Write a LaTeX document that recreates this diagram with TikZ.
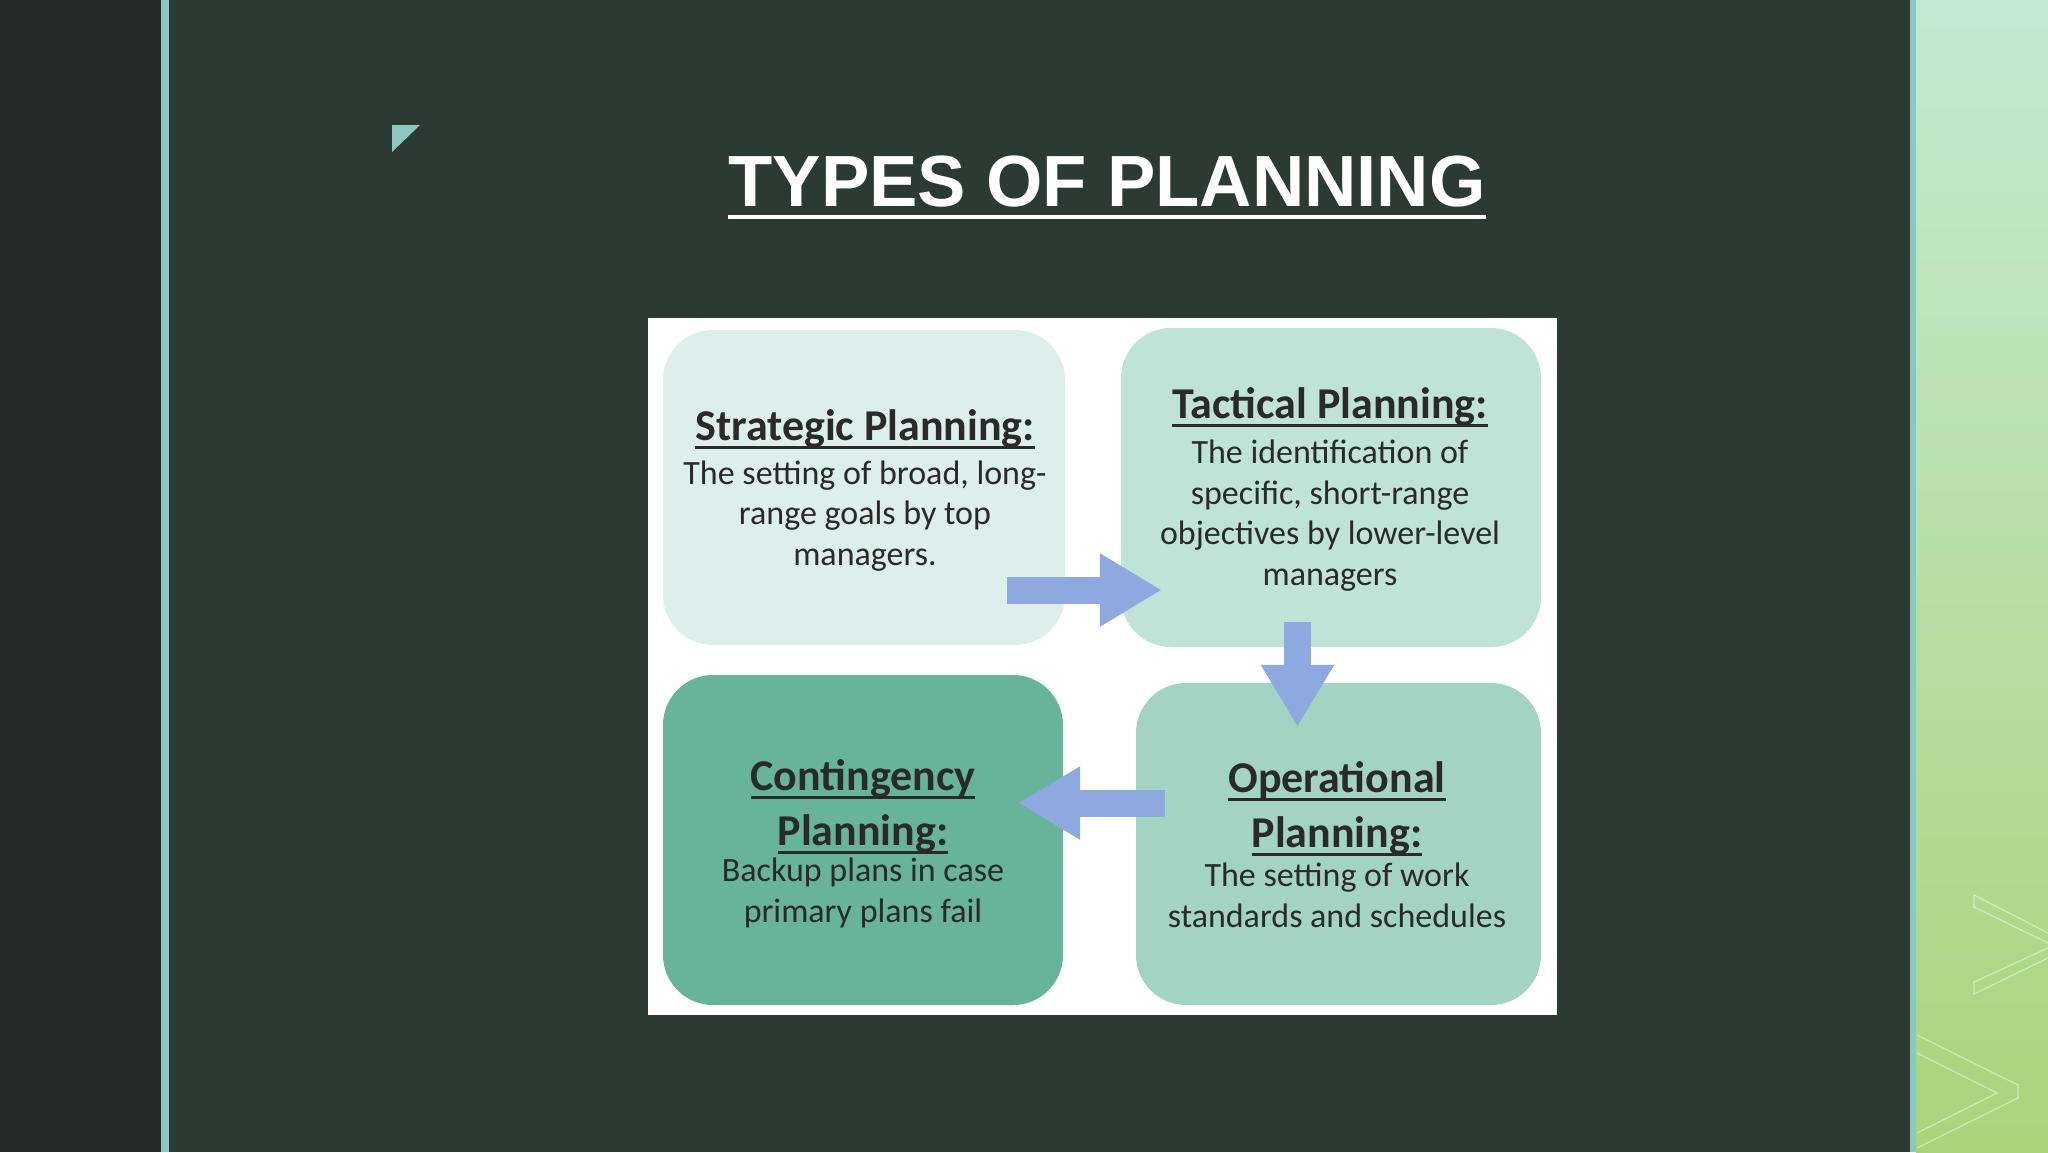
\documentclass[tikz,border=0pt]{standalone}
\usepackage{fontspec}
\setmainfont{Carlito}
\newfontfamily\titlefont{Liberation Sans}
\usetikzlibrary{arrows.meta,positioning,calc}
\definecolor{leftdark}{HTML}{212B27}
\definecolor{slidebg}{HTML}{2C3A34}
\definecolor{tealline}{HTML}{8EC6C1}
\definecolor{stratfill}{HTML}{DDEFEB}
\definecolor{tactfill}{HTML}{BFE3D6}
\definecolor{contfill}{HTML}{67B49B}
\definecolor{operfill}{HTML}{A3D4C3}
\definecolor{arrowblue}{HTML}{8EA8E0}
\definecolor{txtgray}{HTML}{2A2A2A}
\definecolor{paneltop}{HTML}{C6E8D2}
\definecolor{panelmid}{HTML}{B9E0A6}
\definecolor{panelbot}{HTML}{ABD47A}
\newcommand{\headul}[1]{\setbox0=\hbox{#1}\rlap{\rule[-0.2em]{\wd0}{0.075em}}\box0}

\begin{document}
\begin{tikzpicture}[x=1pt,y=-1pt,
    planbox/.style={rounded corners=50pt, inner sep=0pt},
    headtxt/.style={anchor=base, inner sep=0pt, align=center, text=txtgray, font=\bfseries\fontsize{44}{55}\selectfont},
    bodytxt/.style={anchor=base, inner sep=0pt, align=center, text=txtgray, font=\fontsize{34}{40.5}\selectfont},
    flow/.style={draw=arrowblue, line width=27pt, -{Triangle[length=62pt,width=69pt]}}]
    \useasboundingbox (0,0) rectangle (2048,1152);
    % slide background
    \fill[slidebg] (0,0) rectangle (2048,1152);
    \fill[leftdark] (0,0) rectangle (161,1152);
    \fill[tealline] (161,0) rectangle (169,1152);
    \fill[tealline] (1910,0) rectangle (1916,1152);
    \shade[top color=paneltop, middle color=panelmid, bottom color=panelbot] (1916,0) rectangle (2048,1152);
    \draw[white, opacity=0.45, line width=1.2pt] (2048,933) -- (1974,895) -- (1974,907) -- (2048,943);
    \draw[white, opacity=0.45, line width=1.2pt] (2048,948) -- (1974,982) -- (1974,994) -- (2048,958);
    \draw[white, opacity=0.45, line width=1.2pt] (1917,1035) -- (2018,1085) -- (2018,1098) -- (1917,1148);
    \draw[white, opacity=0.45, line width=1.2pt] (1917,1053) -- (1997,1093) -- (1917,1133);
    \fill[tealline] (392,125) -- (420,125) -- (392,152) -- cycle;

    % title
    \node[anchor=base, inner sep=0pt, text=white, font=\titlefont\bfseries\fontsize{72.5}{80}\selectfont] (title) at (1107,206) {TYPES OF PLANNING};
    \draw[white, line width=4pt] ([yshift=-11pt]title.base west) -- ([yshift=-11pt]title.base east);

    % picture
    \fill[white] (648,318) rectangle (1557,1015);
    \node[planbox, fill=stratfill, minimum width=402pt, minimum height=315pt] (strat) at (864,487.5) {};
    \node[planbox, fill=tactfill, minimum width=420pt, minimum height=319pt] (tact) at (1331,487.5) {};
    \node[planbox, fill=contfill, minimum width=400pt, minimum height=330pt] (cont) at (863,840) {};
    \node[planbox, fill=operfill, minimum width=405pt, minimum height=322pt] (oper) at (1338.5,844) {};

    \draw[flow] ($(strat.east)+(-58,102.5)$) -- ($(tact.west)+(41,102.5)$);
    \draw[flow] ($(tact.south)+(-33.5,-25)$) -- ($(oper.north)+(-41,44)$);
    \draw[flow] ($(oper.west)+(29,-41)$) -- ($(cont.east)+(-45,-37)$);

    % base = last line
    \node[headtxt] (strath) at (865,440) {\headul{Strategic Planning:}};
    \node[bodytxt] (stratb) at (865,565) {The setting of broad, long-\\range goals by top\\managers.};
    \node[headtxt] (tacth) at (1330,418) {\headul{Tactical Planning:}};
    \node[bodytxt] (tactb) at (1330,585) {The identification of\\specific, short-range\\objectives by lower-level\\managers};
    \node[headtxt] (conth) at (863,845) {\headul{Contingency}\\\headul{Planning:}};
    \node[bodytxt] (contb) at (863,922) {Backup plans in case\\primary plans fail};
    \node[headtxt] (operh) at (1337,847) {\headul{Operational}\\\headul{Planning:}};
    \node[bodytxt] (operb) at (1337,927) {The setting of work\\standards and schedules};
\end{tikzpicture}
\end{document}
